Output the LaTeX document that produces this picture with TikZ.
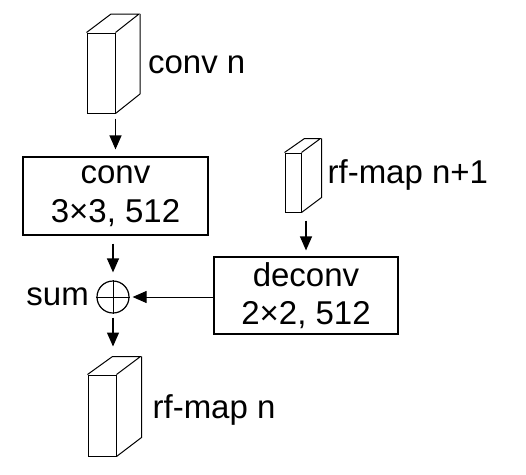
\documentclass[tikz,border=0pt]{standalone}
\usepackage{fontspec}
\setmainfont{Liberation Sans}
\usetikzlibrary{arrows.meta,positioning}

\begin{document}
\begin{tikzpicture}[x=1pt,y=-1pt,->,>={Triangle[length=14pt,width=12pt]},
                    line width=1.2pt,font=\fontsize{33}{38.5}\selectfont,
                    box/.style={draw,rectangle,align=center,inner sep=0pt,
                                minimum width=185pt,minimum height=78pt},
                    face/.style={draw,rectangle,inner sep=0pt,line width=1pt},
                    side/.style={-,line width=1pt},
                    txt/.style={inner sep=0pt}]

  \useasboundingbox (0,0) rectangle (526,474);

  \node[face,minimum width=28pt,minimum height=80pt] (cn)   at (101,73)    {};
  \node[txt,anchor=base west]                       (cnl)  at (147.5,73)  {conv n};
  \node[box]                                        (conv) at (115.5,196) {conv\\3×3, 512};
  \node[draw,circle,minimum size=32pt,inner sep=0pt] (sum) at (113,297)   {};
  \node[txt]                                        (suml) [left=7pt of sum] {sum};
  \node[face,minimum width=16pt,minimum height=59pt] (rf)  at (293,182.5) {};
  \node[txt,anchor=base west]                       (rfl)  at (327,183)   {rf-map n+1};
  \node[box,minimum width=184pt,minimum height=77pt] (deconv) at (306,295.5) {deconv\\2×2, 512};
  \node[face,minimum width=28pt,minimum height=81pt] (rfn)  at (102,415.5) {};
  \node[txt,anchor=base west]                       (rfnl) at (152,418)   {rf-map n};

  % depth of the blocks
  \draw[side] (cn.north west) -- ++(24.5,-18.5) -- ++(28,0) -- (cn.north east);
  \draw[side] (cn.north east) ++(24.5,-18.5) -- ++(0,80) -- (cn.south east);
  \draw[side] (rf.north west) -- ++(20,-14) -- ++(16,0) -- (rf.north east);
  \draw[side] (rf.north east) ++(20,-14) -- ++(0,59) -- (rf.south east);
  \draw[side] (rfn.north west) -- ++(25,-18) -- ++(28,0) -- (rfn.north east);
  \draw[side] (rfn.north east) ++(25,-18) -- ++(0,81) -- (rfn.south east);
  \draw[side] (sum.north) -- (sum.south) (sum.west) -- (sum.east);

  \draw[shorten <=5pt,shorten >=7pt] (cn.south east) -- (cn.south east |- conv.north);
  \draw[shorten <=8pt,shorten >=8pt] (conv.south -| sum) -- (sum.north);
  \draw[shorten <=8pt,shorten >=6pt] (rf.south -| deconv) -- (deconv.north);
  \draw[line width=1pt,shorten >=3pt] (deconv.west |- sum) -- (sum.east);
  \draw[shorten <=4pt,shorten >=28pt] (sum.south) -- (sum.south |- rfn.north);
\end{tikzpicture}
\end{document}
